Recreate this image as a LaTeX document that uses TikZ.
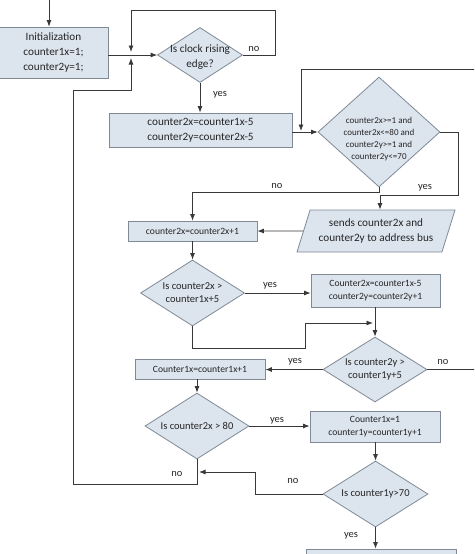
\documentclass[tikz,border=0pt]{standalone}
\usepackage{fontspec}
\setmainfont{Carlito}
\usepackage{xcolor}
\usetikzlibrary{shapes.geometric, positioning, arrows.meta}

\definecolor{boxfill}{HTML}{DCE4EE}
\definecolor{boxline}{HTML}{7F8A96}
\definecolor{txt}{HTML}{262626}
\definecolor{wire}{HTML}{383838}

\newcommand{\fbig}{\fontsize{11.2}{15}\selectfont}
\newcommand{\fmid}{\fontsize{10.5}{13}\selectfont}
\newcommand{\fsmall}{\fontsize{9.6}{13.5}\selectfont}
\newcommand{\ftiny}{\fontsize{9}{12}\selectfont}
\newcommand{\dtext}[2]{\raisebox{#1}[0pt][0pt]{\begin{tabular}{@{}c@{}}#2\end{tabular}}}

\tikzset{
box/.style={rectangle, draw=boxline, fill=boxfill, inner sep=0pt, align=center, text=txt},
decision/.style={diamond, draw=boxline, fill=boxfill, inner sep=-6pt, align=center, text=txt},
io/.style={trapezium, trapezium left angle=62, trapezium right angle=118, trapezium stretches body, draw=boxline, fill=boxfill, inner sep=0pt, align=center, text=txt},
lbl/.style={text=txt, inner sep=0pt, font=\fmid}
}

\begin{document}
\begin{tikzpicture}[x=1pt, y=-1pt, line width=0.8pt, color=wire, >={Latex[length=6.5pt,width=5pt]}]
\clip (0,0) rectangle (474,554);
\node[box, minimum width=109pt, minimum height=51pt, font=\fbig] (init) at (53.5,52.5) {Initialization\\counter1x=1;\\counter2y=1;};
\node[decision, minimum width=85pt, minimum height=55pt, font=\fbig] (clock) at (200,55) {\dtext{-5pt}{Is clock rising\\edge?}};
\node[box, minimum width=183pt, minimum height=34pt, font=\fbig] (calc1) at (200.5,130) {counter2x=counter1x-5\\counter2y=counter2x-5};
\node[decision, minimum width=122pt, minimum height=110pt, font=\ftiny] (range) at (379,132) {\dtext{-9pt}{counter2x>=1 and\\counter2x<=80 and\\counter2y>=1 and\\counter2y<=70}};
\node[io, minimum width=158pt, minimum height=42pt, font=\fbig] (send) at (376,231) {sends counter2x and\\counter2y to address bus};
\node[box, minimum width=129pt, minimum height=20pt, font=\fsmall] (inc2x) at (192.5,231) {counter2x=counter2x+1};
\node[decision, minimum width=104pt, minimum height=66pt, font=\fmid] (chk2x) at (192.5,293) {Is counter2x >\\counter1x+5};
\node[box, minimum width=129pt, minimum height=33pt, font=\fsmall] (upd1) at (375.5,290.5) {Counter2x=counter1x-5\\counter2y=counter2y+1};
\node[decision, minimum width=104pt, minimum height=65pt, font=\fmid] (chk2y) at (375,369.5) {Is counter2y >\\counter1y+5};
\node[box, minimum width=130pt, minimum height=20pt, font=\fsmall] (inc1x) at (200,369) {Counter1x=counter1x+1};
\node[decision, minimum width=104pt, minimum height=66pt, font=\fmid] (chk80) at (197,426) {Is counter2x > 80};
\node[box, minimum width=130pt, minimum height=31pt, font=\fsmall] (upd2) at (375,426.5) {Counter1x=1\\counter1y=counter1y+1};
\node[decision, minimum width=105pt, minimum height=66pt, font=\fmid] (chk70) at (375.5,494) {Is counter1y>70};
\node[io, minimum width=150pt, minimum height=42pt] (last) at (381,570) {};
\coordinate (top) at (49,-2);
\coordinate (yb) at (380,195);
\coordinate (rt) at (476,0);
\draw[->] (top) -- (top |- init.north);
\draw[->] (init.east |- clock.west) -- (clock.west);
\draw[->] (clock.east) -| (275,10) -| (131,52);
\draw[->] (clock.south) -- (clock.south |- calc1.north);
\draw[->] (calc1.east |- range.west) -- (range.west);
\draw[->] (rt |- 0,69) -| (301,131);
\draw[->] (range.east) -| (458,195) -- (yb) -- (yb |- send.north);
\draw[->] (range.south) -- ++(0,5) -| (inc2x.north);
\draw[->] (send.west) -- (inc2x.east);
\draw[->] (inc2x.south) -- (chk2x.north);
\draw[->] (chk2x.east) -- (chk2x.east -| upd1.west);
\draw[->] (upd1.south -| chk2y.north) -- (chk2y.north);
\draw[->] (chk2x.south) |- (305,348) |- (373,323);
\draw[->] (chk2y.west) -- (chk2y.west -| inc1x.east);
\draw (chk2y.east) -- (chk2y.east -| rt);
\draw[->] (inc1x.south -| chk80.north) -- (chk80.north);
\draw[->] (chk80.east) -- (chk80.east -| upd2.west);
\draw[->] (upd2.south -| chk70.north) -- (chk70.north);
\draw[->] (chk70.west) -| (255,472) -- (199,472);
\draw[->] (chk80.south) |- (73,484) -- (73,90) -| (131,58);
\draw[->] (chk70.south) -- (chk70.south |- last.north);
\node[lbl] (no1) at (254,49) {no};
\node[lbl] (yes1) at (220,95) {yes};
\node[lbl] (no2) at (277,186) {no};
\node[lbl] (yes2) at (425,188) {yes};
\node[lbl] (yes3) at (270,286) {yes};
\node[lbl] (yes4) at (295,362) {yes};
\node[lbl] (no3) at (443,362) {no};
\node[lbl] (yes5) at (277,421) {yes};
\node[lbl] (no4) at (177,474) {no};
\node[lbl] (no5) at (293,481) {no};
\node[lbl] (yes6) at (351,536) {yes};
\end{tikzpicture}
\end{document}
